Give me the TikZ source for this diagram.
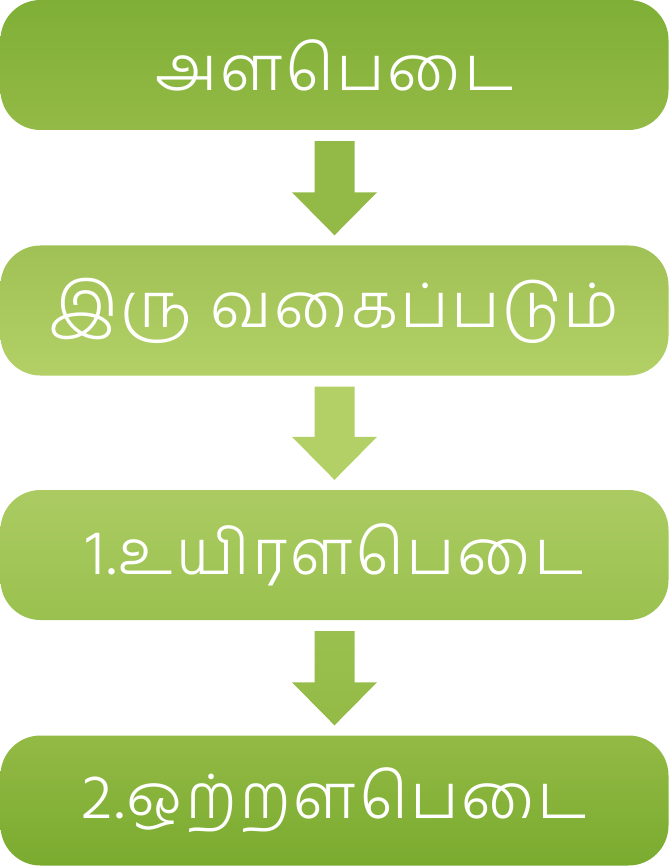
\documentclass[tikz,border=0pt]{standalone}
\usepackage{fontspec}
\newfontfamily\tamilfont[Script=Tamil, UprightFont=* Light, LetterSpace=4]{Hind Madurai}
\usetikzlibrary{calc}

\definecolor{gOneTop}{HTML}{7FAF36}
\definecolor{gOneBot}{HTML}{93BA46}
\definecolor{gTwoTop}{HTML}{A0C155}
\definecolor{gTwoBot}{HTML}{B2D066}
\definecolor{gThreeTop}{HTML}{ABCB62}
\definecolor{gThreeBot}{HTML}{9AC14F}
\definecolor{gFourTop}{HTML}{93BA45}
\definecolor{gFourBot}{HTML}{7AAB2F}

\begin{document}
\begin{tikzpicture}[x=1pt,y=1pt]
				\tikzstyle{stepbox}=[rounded corners=40pt, minimum width=668pt, minimum height=130pt, inner sep=0pt, text=white, font=\tamilfont\fontsize{63}{76}\selectfont]
				\tikzstyle{arrowfill}=[draw=none]
				\newcommand\XMid{334.5}
				\newcommand\Shaft{20}
				\newcommand\Head{42.5}
				\newcommand\HeadLen{43}

				\useasboundingbox (0,0) rectangle (669,-866);

				 % Boxes
				\node [stepbox, top color=gOneTop, bottom color=gOneBot] at (\XMid,-65) (b1) {அளபெடை};
				\node [stepbox, top color=gTwoTop, bottom color=gTwoBot] at (\XMid,-310.5) (b2) {இரு வகைப்படும்};
				\node [stepbox, top color=gThreeTop, bottom color=gThreeBot] at (\XMid,-555) (b3) {1.உயிரளபெடை};
				\node [stepbox, top color=gFourTop, bottom color=gFourBot] at (\XMid,-800.5) (b4) {2.ஒற்றளபெடை};

				 % Block arrows
				\foreach \a/\b/\ctop/\cbot in {b1/b2/gOneBot/gOneBot, b2/b3/gTwoBot/gTwoBot, b3/b4/gThreeBot/gFourTop}
				{
					\shade [arrowfill, top color=\ctop, bottom color=\cbot]
						($(\a.south)+(-\Shaft,-11)$) -- ($(\a.south)+(\Shaft,-11)$)
						-- ($(\b.north)+(\Shaft,10+\HeadLen)$) -- ($(\b.north)+(\Head,10+\HeadLen)$)
						-- ($(\b.north)+(0,10)$)
						-- ($(\b.north)+(-\Head,10+\HeadLen)$) -- ($(\b.north)+(-\Shaft,10+\HeadLen)$) -- cycle;
				}

			\end{tikzpicture}
\end{document}
